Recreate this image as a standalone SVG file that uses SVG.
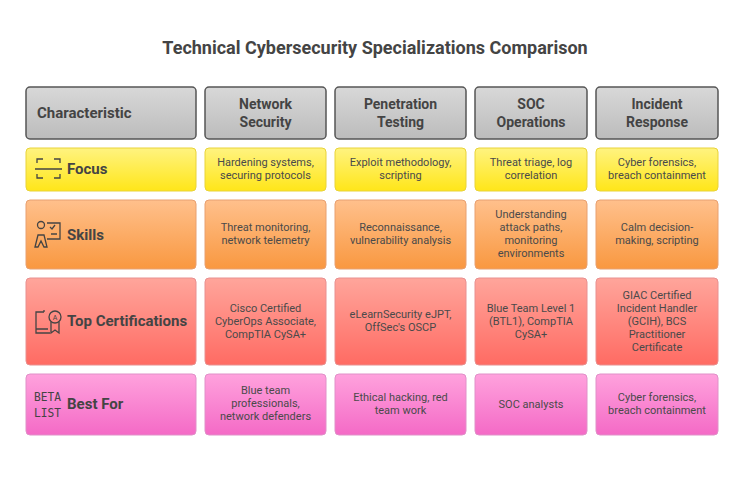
<svg xmlns="http://www.w3.org/2000/svg" width="750" height="483" viewBox="0 0 750 483">
<style>
text{font-family:Roboto,"Liberation Sans",sans-serif;fill:#444}
.h{font-size:14px;font-weight:bold;text-anchor:middle}
.l{font-size:15px;font-weight:bold}
.c{font-size:11px;text-anchor:middle;fill:#4a4a4a}
.g{stroke:#555;stroke-width:1.5;fill:url(#gg)}
.y{stroke:#e8d33a;fill:url(#gy)}
.o{stroke:#e8a070;fill:url(#go)}
.r{stroke:#e89090;fill:url(#gr)}
.p{stroke:#e090c8;fill:url(#gp)}
.i{fill:none;stroke:#444;stroke-width:1.3}
.b{font-family:"DejaVu Sans Mono",monospace;font-size:12px}
</style>
<defs>
<linearGradient id="gg" x1="0" y1="0" x2="0" y2="1"><stop offset="0" stop-color="#d8d8d8"/><stop offset="1" stop-color="#bcbcbc"/></linearGradient>
<linearGradient id="gy" x1="0" y1="0" x2="0" y2="1"><stop offset="0" stop-color="#fff380"/><stop offset="1" stop-color="#ffe619"/></linearGradient>
<linearGradient id="go" x1="0" y1="0" x2="0" y2="1"><stop offset="0" stop-color="#ffc08c"/><stop offset="1" stop-color="#f99840"/></linearGradient>
<linearGradient id="gr" x1="0" y1="0" x2="0" y2="1"><stop offset="0" stop-color="#ffa59b"/><stop offset="1" stop-color="#ff6b63"/></linearGradient>
<linearGradient id="gp" x1="0" y1="0" x2="0" y2="1"><stop offset="0" stop-color="#ffa2dd"/><stop offset="1" stop-color="#f46ac6"/></linearGradient>
</defs>
<rect width="750" height="483" fill="#fff"/>
<text x="375" y="54" text-anchor="middle" style="font-size:18px;font-weight:bold">Technical Cybersecurity Specializations Comparison</text>
<g id="header">
<rect class="g" x="26" y="87" width="170" height="52" rx="4"/><text class="l" x="37" y="118">Characteristic</text>
<rect class="g" x="205" y="87" width="121" height="52" rx="4"/><text class="h" x="265.5" y="109">Network</text><text class="h" x="265.5" y="127">Security</text>
<rect class="g" x="335" y="87" width="131" height="52" rx="4"/><text class="h" x="400.5" y="109">Penetration</text><text class="h" x="400.5" y="127">Testing</text>
<rect class="g" x="475" y="87" width="112" height="52" rx="4"/><text class="h" x="531" y="109">SOC</text><text class="h" x="531" y="127">Operations</text>
<rect class="g" x="596" y="87" width="122" height="52" rx="4"/><text class="h" x="657" y="109">Incident</text><text class="h" x="657" y="127">Response</text>
</g>
<g id="focus">
<rect class="y" x="26" y="148" width="170" height="43" rx="4"/>
<path class="i" d="M37 163v-4h6M54 159h6v4M37 174v4h6M54 178h6v-4M35 169h27"/>
<text class="l" x="67" y="174">Focus</text>
<rect class="y" x="205" y="148" width="121" height="43" rx="4"/><text class="c" x="265.5" y="166">Hardening systems,</text><text class="c" x="265.5" y="179">securing protocols</text>
<rect class="y" x="335" y="148" width="131" height="43" rx="4"/><text class="c" x="400.5" y="166">Exploit methodology,</text><text class="c" x="400.5" y="179">scripting</text>
<rect class="y" x="475" y="148" width="112" height="43" rx="4"/><text class="c" x="531" y="166">Threat triage, log</text><text class="c" x="531" y="179">correlation</text>
<rect class="y" x="596" y="148" width="122" height="43" rx="4"/><text class="c" x="657" y="166">Cyber forensics,</text><text class="c" x="657" y="179">breach containment</text>
</g>
<g id="skills">
<rect class="o" x="26" y="200" width="170" height="69" rx="4"/>
<circle class="i" cx="41" cy="225" r="3.5"/><path class="i" d="M35 247l3-12h6l3 12h-3l-3 -6-3 6z M47 223h13v16h-13 M50 227l2 2 3-4 M51 234h6"/>
<text class="l" x="67" y="240">Skills</text>
<rect class="o" x="205" y="200" width="121" height="69" rx="4"/><text class="c" x="265.5" y="231">Threat monitoring,</text><text class="c" x="265.5" y="244">network telemetry</text>
<rect class="o" x="335" y="200" width="131" height="69" rx="4"/><text class="c" x="400.5" y="231">Reconnaissance,</text><text class="c" x="400.5" y="244">vulnerability analysis</text>
<rect class="o" x="475" y="200" width="112" height="69" rx="4"/><text class="c" x="531" y="218">Understanding</text><text class="c" x="531" y="231">attack paths,</text><text class="c" x="531" y="244">monitoring</text><text class="c" x="531" y="257">environments</text>
<rect class="o" x="596" y="200" width="122" height="69" rx="4"/><text class="c" x="657" y="231">Calm decision-</text><text class="c" x="657" y="244">making, scripting</text>
</g>
<g id="certs">
<rect class="r" x="26" y="278" width="170" height="87" rx="4"/>
<path class="i" d="M44 312h-8v17h12M36 329v4h14M44 312v-2"/><circle class="i" cx="55" cy="317" r="6"/><path class="i" d="M51 322v11l4-3 4 3v-11"/>
<text x="55" y="320" style="font-size:7px;text-anchor:middle">A</text>
<text class="l" x="67" y="326">Top Certifications</text>
<rect class="r" x="205" y="278" width="121" height="87" rx="4"/><text class="c" x="265.5" y="312">Cisco Certified</text><text class="c" x="265.5" y="325">CyberOps Associate,</text><text class="c" x="265.5" y="338">CompTIA CySA+</text>
<rect class="r" x="335" y="278" width="131" height="87" rx="4"/><text class="c" x="400.5" y="318">eLearnSecurity eJPT,</text><text class="c" x="400.5" y="331">OffSec's OSCP</text>
<rect class="r" x="475" y="278" width="112" height="87" rx="4"/><text class="c" x="531" y="312">Blue Team Level 1</text><text class="c" x="531" y="325">(BTL1), CompTIA</text><text class="c" x="531" y="338">CySA+</text>
<rect class="r" x="596" y="278" width="122" height="87" rx="4"/><text class="c" x="657" y="299">GIAC Certified</text><text class="c" x="657" y="312">Incident Handler</text><text class="c" x="657" y="325">(GCIH), BCS</text><text class="c" x="657" y="338">Practitioner</text><text class="c" x="657" y="351">Certificate</text>
</g>
<g id="bestfor">
<rect class="p" x="26" y="374" width="170" height="61" rx="4"/>
<text class="b" x="34" y="401" textLength="27" lengthAdjust="spacingAndGlyphs">BETA</text>
<text class="b" x="34" y="417" textLength="27" lengthAdjust="spacingAndGlyphs">LIST</text>
<text class="l" x="67" y="409">Best For</text>
<rect class="p" x="205" y="374" width="121" height="61" rx="4"/><text class="c" x="265.5" y="394">Blue team</text><text class="c" x="265.5" y="407">professionals,</text><text class="c" x="265.5" y="420">network defenders</text>
<rect class="p" x="335" y="374" width="131" height="61" rx="4"/><text class="c" x="400.5" y="401">Ethical hacking, red</text><text class="c" x="400.5" y="414">team work</text>
<rect class="p" x="475" y="374" width="112" height="61" rx="4"/><text class="c" x="531" y="408">SOC analysts</text>
<rect class="p" x="596" y="374" width="122" height="61" rx="4"/><text class="c" x="657" y="401">Cyber forensics,</text><text class="c" x="657" y="414">breach containment</text>
</g>
<g id="connectors"/>
</svg>
